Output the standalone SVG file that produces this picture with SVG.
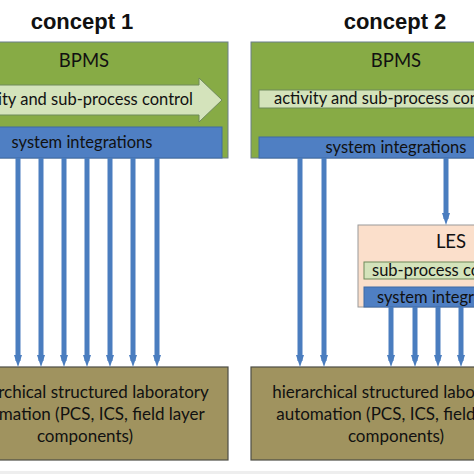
<svg xmlns="http://www.w3.org/2000/svg" width="474" height="474" viewBox="0 0 474 474">
<defs>
<style>
.t{font-family:Lato,"Liberation Sans",Arial,sans-serif;fill:#111}
.title{font-family:"Liberation Sans",Arial,sans-serif;font-size:22px;font-weight:bold;text-anchor:middle}
.big{font-size:18.5px;text-anchor:middle}
.mid{font-size:16.5px}
.bot{font-size:17px;text-anchor:middle}
.bpms{fill:#87ab45;stroke:#6b7f8a;stroke-width:1}
.light{fill:#d4e3bb;stroke:#6f8a5a;stroke-width:1}
.blue{fill:#4f7fc3;stroke:#3f6aa5;stroke-width:1}
.les{fill:#fbdfcb;stroke:#9a9a9a;stroke-width:1}
.olive{fill:#a0935f;stroke:#4d4d45;stroke-width:1.2}
.arr{stroke:#4a7dbf;stroke-width:5;fill:none;marker-end:url(#ah)}
</style>
<marker id="ah" markerUnits="userSpaceOnUse" markerWidth="12" markerHeight="8" refX="6" refY="4" orient="auto" viewBox="0 0 12 8">
<path d="M0,0 L12,4 L0,8 Z" fill="#4a7dbf"/>
</marker>
</defs>
<rect x="0" y="471" width="474" height="3" fill="#eeeeee"/>
<text class="t title" x="82" y="29">concept 1</text>
<text class="t title" x="395" y="29">concept 2</text>
<g id="bpms1">
<rect class="bpms" x="-60" y="42" width="288" height="116"/>
<text class="t big" x="84" y="67">BPMS</text>
<polygon class="light" points="-10,85 199,85 199,78 222,100 199,122 199,115 -10,115"/>
<text class="t mid" x="193" y="105" text-anchor="end">activity and sub-process control</text>
<rect class="blue" x="-10" y="127" width="232" height="31"/>
<text class="t mid" x="82" y="148" text-anchor="middle">system integrations</text>
</g>
<g id="bpms2">
<rect class="bpms" x="251" y="42" width="290" height="116"/>
<text class="t big" x="396" y="67">BPMS</text>
<rect class="light" x="259" y="90" width="280" height="18"/>
<text class="t mid" x="274" y="104">activity and sub-process control</text>
<rect class="blue" x="259" y="137" width="280" height="21"/>
<text class="t mid" x="396" y="153" text-anchor="middle">system integrations</text>
</g>
<g id="les">
<rect class="les" x="358" y="225" width="186" height="82"/>
<text class="t big" x="451" y="248">LES</text>
<rect class="light" x="364" y="262" width="180" height="17"/>
<text class="t mid" x="372" y="276">sub-process control</text>
<rect class="blue" x="364" y="287" width="180" height="20"/>
<text class="t mid" x="377" y="303">system integrations</text>
</g>
<g id="lab1">
<rect class="olive" x="-60" y="367" width="288" height="93"/>
<text class="t bot" x="85" y="398">hierarchical structured laboratory</text>
<text class="t bot" x="85" y="420">automation (PCS, ICS, field layer</text>
<text class="t bot" x="85" y="442">components)</text>
</g>
<g id="lab2">
<rect class="olive" x="251" y="367" width="290" height="93"/>
<text class="t bot" x="396" y="398">hierarchical structured laboratory</text>
<text class="t bot" x="396" y="420">automation (PCS, ICS, field layer</text>
<text class="t bot" x="396" y="442">components)</text>
</g>
<g id="connectors">
<line class="arr" x1="18" y1="158" x2="18" y2="361"/>
<line class="arr" x1="41" y1="158" x2="41" y2="361"/>
<line class="arr" x1="64" y1="158" x2="64" y2="361"/>
<line class="arr" x1="87" y1="158" x2="87" y2="361"/>
<line class="arr" x1="110" y1="158" x2="110" y2="361"/>
<line class="arr" x1="133" y1="158" x2="133" y2="361"/>
<line class="arr" x1="157" y1="158" x2="157" y2="361"/>
<line class="arr" x1="300" y1="158" x2="300" y2="361"/>
<line class="arr" x1="324" y1="158" x2="324" y2="361"/>
<line class="arr" x1="446" y1="158" x2="446" y2="219"/>
<line class="arr" x1="391" y1="307" x2="391" y2="361"/>
<line class="arr" x1="415" y1="307" x2="415" y2="361"/>
<line class="arr" x1="438" y1="307" x2="438" y2="361"/>
<line class="arr" x1="461" y1="307" x2="461" y2="361"/>
</g>
</svg>
